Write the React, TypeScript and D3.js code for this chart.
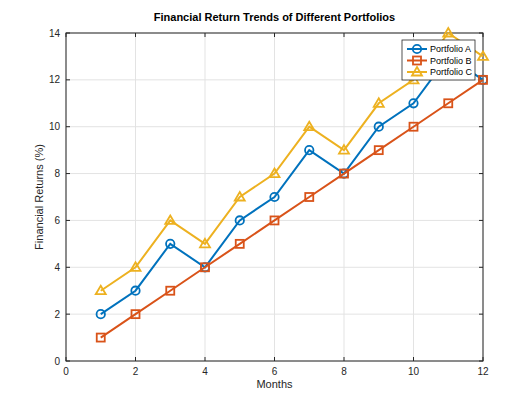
import React from "react";
import * as d3 from "d3";

const months = [1, 2, 3, 4, 5, 6, 7, 8, 9, 10, 11, 12];
const portfolioA = [2, 3, 5, 4, 6, 7, 9, 8, 10, 11, 13, 12];
const portfolioB = [1, 2, 3, 4, 5, 6, 7, 8, 9, 10, 11, 12];
const portfolioC = [3, 4, 6, 5, 7, 8, 10, 9, 11, 12, 14, 13];
const seriesNames = ["Portfolio A", "Portfolio B", "Portfolio C"];
const seriesColors = ["#0072BD", "#D95319", "#EDB120"];
const xTicks = [0, 2, 4, 6, 8, 10, 12];
const yTicks = [0, 2, 4, 6, 8, 10, 12, 14];

const W = 522, H = 396;
const L = 66, R = 483, T = 33, B = 361;

function Marker({ kind, x, y, color }: { kind: number; x: number; y: number; color: string }) {
  if (kind === 0) return <circle cx={x} cy={y} r={4.2} fill="none" stroke={color} strokeWidth={1.8} />;
  if (kind === 1) return <rect x={x - 4} y={y - 4} width={8} height={8} fill="none" stroke={color} strokeWidth={1.8} />;
  const s = 5;
  return <path d={`M${x},${y - s}L${x + s},${y + s * 0.7}L${x - s},${y + s * 0.7}Z`} fill="none" stroke={color} strokeWidth={1.8} />;
}

export default function App() {
  const x = d3.scaleLinear().domain([0, 12]).range([L, R]);
  const y = d3.scaleLinear().domain([0, 14]).range([B, T]);
  const data = [portfolioA, portfolioB, portfolioC];
  const line = d3.line<number>().x((_, i) => x(months[i])).y((d) => y(d));
  const font = "Liberation Sans, Arial, sans-serif";
  const lx = 402, ly = 40, lw = 73, lh = 40;
  return (
    <svg width={W} height={H} style={{ position: "absolute", left: 0, top: 0, background: "#fff" }} fontFamily={font}>
      <rect x={0} y={0} width={W} height={H} fill="#fff" />
      {xTicks.map((t) => (
        <line key={"gx" + t} x1={x(t)} x2={x(t)} y1={T} y2={B} stroke="#e3e3e3" strokeWidth={1} />
      ))}
      {yTicks.map((t) => (
        <line key={"gy" + t} x1={L} x2={R} y1={y(t)} y2={y(t)} stroke="#e3e3e3" strokeWidth={1} />
      ))}
      <rect x={L} y={T} width={R - L} height={B - T} fill="none" stroke="#262626" strokeWidth={1} />
      {xTicks.map((t) => (
        <g key={"tx" + t}>
          <line x1={x(t)} x2={x(t)} y1={B} y2={B - 4} stroke="#262626" />
          <line x1={x(t)} x2={x(t)} y1={T} y2={T + 4} stroke="#262626" />
          <text x={x(t)} y={B + 14} textAnchor="middle" fontSize={10} fill="#262626">{t}</text>
        </g>
      ))}
      {yTicks.map((t) => (
        <g key={"ty" + t}>
          <line x1={L} x2={L + 4} y1={y(t)} y2={y(t)} stroke="#262626" />
          <line x1={R} x2={R - 4} y1={y(t)} y2={y(t)} stroke="#262626" />
          <text x={L - 6} y={y(t) + 3.5} textAnchor="end" fontSize={10} fill="#262626">{t}</text>
        </g>
      ))}
      {data.map((s, k) => (
        <g key={"s" + k}>
          <path d={line(s) || ""} fill="none" stroke={seriesColors[k]} strokeWidth={2} />
          {s.map((v, i) => (
            <Marker key={i} kind={k} x={x(months[i])} y={y(v)} color={seriesColors[k]} />
          ))}
        </g>
      ))}
      <text x={(L + R) / 2} y={21} textAnchor="middle" fontSize={11} fontWeight="bold" fill="#000">
        Financial Return Trends of Different Portfolios
      </text>
      <text x={(L + R) / 2} y={388} textAnchor="middle" fontSize={11} fill="#262626">Months</text>
      <text transform={`translate(43,${(T + B) / 2}) rotate(-90)`} textAnchor="middle" fontSize={11} fill="#262626">
        Financial Returns (%)
      </text>
      <rect x={lx} y={ly} width={lw} height={lh} fill="#fff" stroke="#262626" strokeWidth={0.8} />
      {seriesNames.map((n, k) => {
        const yy = ly + 9 + k * 11.5;
        return (
          <g key={"l" + k}>
            <line x1={lx + 5} x2={lx + 25} y1={yy} y2={yy} stroke={seriesColors[k]} strokeWidth={2} />
            <Marker kind={k} x={lx + 15} y={yy} color={seriesColors[k]} />
            <text x={lx + 28} y={yy + 3} fontSize={9} fill="#000">{n}</text>
          </g>
        );
      })}
    </svg>
  );
}
